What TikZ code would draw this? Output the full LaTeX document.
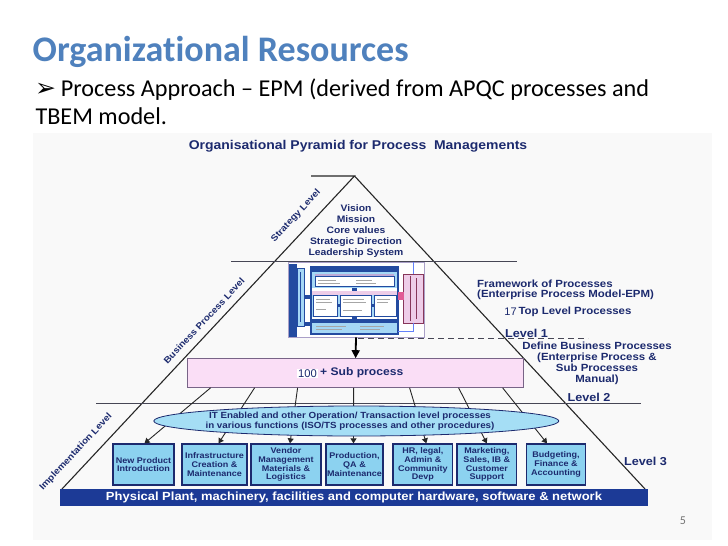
\documentclass[tikz,border=0pt]{standalone}
\usepackage{fontspec}
\setmainfont[Ligatures=NoCommon]{Carlito}
\newfontfamily\dfont[FakeStretch=1.1]{Liberation Sans}
\newfontfamily\nfont{Liberation Sans}
\newfontfamily\symfont{DejaVu Sans}
\usetikzlibrary{arrows.meta,shapes.geometric}
\definecolor{titleblue}{RGB}{79,129,189}
\definecolor{navy}{RGB}{28,42,110}
\definecolor{barblue}{RGB}{28,58,150}
\definecolor{boxblue}{RGB}{140,210,240}
\definecolor{ellblue}{RGB}{165,222,245}
\definecolor{pinkfill}{RGB}{250,222,246}
\definecolor{pinkdraw}{RGB}{120,100,135}
\definecolor{linegray}{RGB}{70,70,85}
\definecolor{bggray}{RGB}{249,249,249}
\definecolor{fwdark}{RGB}{35,75,160}
\definecolor{fwlight}{RGB}{165,215,245}
\definecolor{fwpink}{RGB}{238,205,232}
\definecolor{fwmag}{RGB}{225,90,150}
\definecolor{fwlav}{RGB}{190,170,215}
\definecolor{fwborder}{RGB}{170,160,200}
\tikzset{
  dtext/.style={text=navy, inner sep=0, align=center, font=\dfont\bfseries\fontsize{9.4}{10.8}\selectfont},
  rtext/.style={text=navy, inner sep=0, font=\dfont\bfseries\fontsize{10.4}{10.8}\selectfont},
  lvtext/.style={text=navy, inner sep=0, font=\dfont\bfseries\fontsize{11.5}{13}\selectfont},
  rotlabel/.style={text=navy, inner sep=0, rotate=46.8, font=\dfont\bfseries\fontsize{9}{10}\selectfont},
  pyr/.style={draw=black!85, line width=1.1},
  hline/.style={draw=linegray, line width=1.2},
  l3box/.style={draw=navy, fill=boxblue, line width=1.3, minimum height=41, inner sep=0, align=center, text=navy, font=\dfont\bfseries\fontsize{8.2}{8.8}\selectfont},
  conn/.style={draw=black!85, line width=0.9, -{Triangle[length=5,width=6]}},
  fwbox/.style={fill=white, draw=fwdark, line width=0.3},
  fwtxt/.style={draw=black!35, line width=0.4}
}
\begin{document}
\begin{tikzpicture}[x=1pt,y=-1pt]
\useasboundingbox (0,0) rectangle (728,546);
\fill[white] (0,0) rectangle (728,546);
\fill[bggray] (33,133) rectangle (712,540);

% slide title and text
\node[anchor=base west, inner sep=0, text=titleblue, font=\fontsize{36}{40}\selectfont\bfseries] (title) at (32.5,61.3) {Organizational Resources};
\node[anchor=base west, inner sep=0, font=\symfont\fontsize{25}{26}\selectfont] (bul) at (35,96) {➢};
\node[anchor=base west, inner sep=0, font=\fontsize{24.2}{28}\selectfont] (sub1) at (60.7,96.3) {Process Approach – EPM (derived from APQC processes and};
\node[anchor=base west, inner sep=0, font=\fontsize{24.2}{28}\selectfont] (sub2) at (35.3,124.7) {TBEM model.};

% diagram title
\node[text=navy, inner sep=0, font=\dfont\bfseries\fontsize{12.7}{14}\selectfont] (dtitle) at (358,146.5) {Organisational Pyramid for Process\ \ Managements};

% pyramid
\coordinate (apex) at (354.5,176);
\coordinate (bl) at (62,489);
\coordinate (br) at (645,489);
\coordinate (tl) at (311,176);
\draw[pyr] (tl) -- (apex) -- (bl);
\draw[pyr] (apex) -- (br);

\coordinate (h1a) at (231,261.7);
\coordinate (h1b) at (517,261.7);
\coordinate (h2a) at (96,403.3);
\coordinate (h2b) at (641,403.3);
\coordinate (d1a) at (358,338.5);
\coordinate (d1b) at (588,338.5);
\draw[hline] (h1a) -- (h1b);
\draw[hline] (h2a) -- (h2b);
\draw[draw=linegray, line width=1.1, dash pattern=on 6pt off 4pt] (d1a) -- (d1b);

% rotated level labels
\node[rotlabel] (lstrat) at (296,216) {Strategy Level};
\node[rotlabel] (lbus) at (204,321) {Business Process Level};
\node[rotlabel] (limp) at (76,452) {Implementation Level};

% strategy text
\node[dtext] (strat) at (356,231) {Vision\\Mission\\Core values\\Strategic Direction\\Leadership System};

% framework picture
\node[draw=fwborder, fill=white, line width=0.6, minimum width=136, minimum height=75, inner sep=0] (fw) at (356,299.5) {};
\fill[fwdark] (289,264) rectangle (296.5,337);
\filldraw[fill=fwlight, draw=fwdark, line width=0.3] (297,268) rectangle (304,326);
\fill[fwdark] (304,295) rectangle (311,299);
\fill[fwdark] (304,322) rectangle (311,326);
\filldraw[fill=white, draw=fwdark, line width=1.2] (311,267) rectangle (398,334);
\fill[fwdark] (311,267) rectangle (398,272);
\fill[fwlight] (312,272) rectangle (397,288);
\filldraw[fwbox] (315,276) rectangle (394,286);
\fill[fwlav] (315,273.5) rectangle (394,276);
\fill[fwdark] (352,288) rectangle (357,291);
\fill[fwlight] (312,291) rectangle (397,317);
\fill[fwpink] (312,291) rectangle (397,294.5);
\filldraw[fwbox] (313,295) rectangle (337,316);
\filldraw[fwbox] (340,295) rectangle (371,316);
\filldraw[fwbox] (374,295) rectangle (396,316);
\fill[fwdark] (337,304) rectangle (340,307);
\fill[fwdark] (371,304) rectangle (374,307);
\fill[fwdark] (352,317) rectangle (357,319);
\fill[fwdark] (311,319) rectangle (398,323);
\fill[fwlight] (312,323) rectangle (397,333);
\draw[fwtxt] (318,280) -- (336,280) (318,283) -- (340,283) (356,280) -- (372,280) (356,283) -- (376,283);
\draw[fwtxt] (316,299) -- (330,299) (316,302) -- (332,302) (316,309) -- (326,309);
\draw[fwtxt] (343,299) -- (364,299) (343,302) -- (366,302) (343,310) -- (362,310);
\draw[fwtxt] (377,299) -- (390,299) (377,302) -- (388,302);
\draw[fwtxt] (316,326) -- (346,326) (316,329) -- (342,329) (360,326) -- (384,326) (360,329) -- (380,329);
\draw[fwdark, line width=0.4] (292.5,270) -- (292.5,330);
\draw[fwdark, line width=0.4] (300.5,272) -- (300.5,322);
\filldraw[fill=fwpink, draw=fwmag!60!black, line width=0.5] (403,274) rectangle (423,323);
\draw[fwmag!60!black, line width=0.3] (410,276) -- (410,321) (416,278) -- (416,319);
\fill[fwmag] (398,292) rectangle (404,300);
\draw[fwlight!60!blue, line width=0.6] (413,262) -- (413,274) (413,323) -- (413,331) -- (398,331);

% sub process box
\node[draw=pinkdraw, fill=pinkfill, minimum width=336, minimum height=28.6, inner sep=0, line width=1] (sub) at (355.6,373) {};
\node[fill=white, inner sep=0.8, font=\nfont\fontsize{11.2}{13}\selectfont, text=navy] (n100) at (307.5,373.5) {100};
\node[anchor=west, inner sep=0, text=navy, font=\dfont\bfseries\fontsize{11}{13}\selectfont] (subtxt) at (320,372.5) {+ Sub process};

\draw[-{Triangle[length=8,width=8]}, line width=1.8] (fw.south) -- (sub.north);

% level 3 boxes
\node[l3box, minimum width=61] (b1) at (143.5,464.5) {New Product\\Introduction};
\node[l3box, minimum width=65] (b2) at (214.5,464.5) {Infrastructure\\Creation \&\\Maintenance};
\node[l3box, minimum width=70] (b3) at (286,464.5) {Vendor\\Management\\Materials \&\\Logistics};
\node[l3box, minimum width=57] (b4) at (354.5,464.5) {Production,\\QA \&\\Maintenance};
\node[l3box, minimum width=59.5] (b5) at (422.8,464.5) {HR, legal,\\Admin \&\\Community\\Devp};
\node[l3box, minimum width=59.5] (b6) at (486.8,464.5) {Marketing,\\Sales, IB \&\\Customer\\Support};
\node[l3box, minimum width=59] (b7) at (556,464.5) {Budgeting,\\Finance \&\\Accounting};

% connectors
\draw[conn] ([xshift=23.5]sub.south west) -- ([xshift=1]b1.north);
\draw[conn] ([xshift=67.5]sub.south west) -- ([xshift=4]b2.north);
\draw[conn] ([xshift=110.5]sub.south west) -- ([xshift=4]b3.north);
\draw[conn] ([xshift=166.5]sub.south west) -- ([xshift=-1]b4.north);
\draw[conn] ([xshift=222.5]sub.south west) -- ([xshift=3.5]b5.north);
\draw[conn] ([xshift=271.5]sub.south west) -- ([xshift=0]b6.north);
\draw[conn] ([xshift=315.5]sub.south west) -- ([xshift=-9]b7.north);

% ellipse
\node[ellipse, draw=navy, fill=ellblue, line width=0.8, minimum width=405, minimum height=30, inner sep=0] (ell) at (356.3,421) {};
\node[text=navy, inner sep=0, align=center, font=\dfont\bfseries\fontsize{8.9}{9.2}\selectfont] (elltxt) at (350,421.2) {IT Enabled and other Operation/ Transaction level processes\\in various functions (ISO/TS processes and other procedures)};

% bottom bar
\node[fill=barblue, minimum width=588, minimum height=17.5, inner sep=0, text=white, font=\dfont\bfseries\fontsize{11.8}{13}\selectfont] (bar) at (354,497.5) {Physical Plant, machinery, facilities and computer hardware, software \& network};

% right side texts
\node[rtext, anchor=west, align=left] (fwtext) at (477,289.8) {Framework of Processes\\(Enterprise Process Model-EPM)};
\node[inner sep=0, text=navy, font=\nfont\fontsize{11}{13}\selectfont] (n17) at (510.5,312) {17};
\node[rtext, anchor=west] (top17) at (518.3,311.7) {Top Level Processes};
\node[lvtext] (lv1) at (526.5,333) {Level 1};
\node[rtext, align=center] (define) at (597,363.5) {Define Business Processes\\(Enterprise Process \&\\Sub Processes\\Manual)};
\node[lvtext] (lv2) at (589,397.3) {Level 2};
\node[lvtext] (lv3) at (645.5,461) {Level 3};

% page number
\node[text=black!55, inner sep=0, font=\fontsize{12}{14}\selectfont] (pnum) at (683,521) {5};
\end{tikzpicture}
\end{document}
